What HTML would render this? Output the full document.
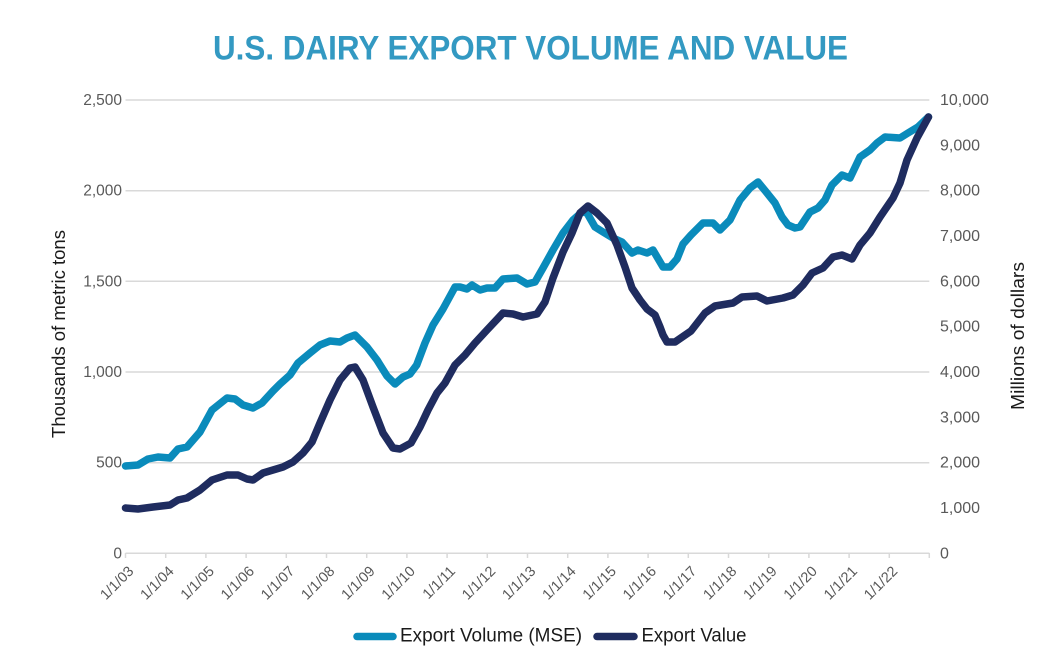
<!DOCTYPE html>
<html>
<head>
<meta charset="utf-8">
<style>
  html,body{margin:0;padding:0;background:#fff;}
  svg{display:block;}
  text{font-family:"Liberation Sans", sans-serif;}
</style>
</head>
<body>
<svg width="1061" height="665" viewBox="0 0 1061 665" xmlns="http://www.w3.org/2000/svg">
  <rect width="1061" height="665" fill="#fff"/>

  <!-- Title -->
  <text x="213" y="59.5" font-family="Liberation Sans Narrow, Liberation Sans, sans-serif" font-weight="bold" font-size="34" fill="#3399c2" textLength="635" lengthAdjust="spacingAndGlyphs">U.S. DAIRY EXPORT VOLUME AND VALUE</text>

  <!-- Gridlines -->
  <g stroke="#d9d9d9" stroke-width="1.5">
    <line x1="125.5" y1="100" x2="929.3" y2="100"/>
    <line x1="125.5" y1="190.7" x2="929.3" y2="190.7"/>
    <line x1="125.5" y1="281.3" x2="929.3" y2="281.3"/>
    <line x1="125.5" y1="372" x2="929.3" y2="372"/>
    <line x1="125.5" y1="462.7" x2="929.3" y2="462.7"/>
    <line x1="125.5" y1="553.3" x2="929.3" y2="553.3"/>
  </g>
  <!-- x ticks -->
  <g stroke="#d9d9d9" stroke-width="1.5">
    <line x1="125.5" y1="553" x2="125.5" y2="558"/>
    <line x1="165.7" y1="553" x2="165.7" y2="558"/>
    <line x1="205.9" y1="553" x2="205.9" y2="558"/>
    <line x1="246.1" y1="553" x2="246.1" y2="558"/>
    <line x1="286.3" y1="553" x2="286.3" y2="558"/>
    <line x1="326.5" y1="553" x2="326.5" y2="558"/>
    <line x1="366.7" y1="553" x2="366.7" y2="558"/>
    <line x1="406.9" y1="553" x2="406.9" y2="558"/>
    <line x1="447.1" y1="553" x2="447.1" y2="558"/>
    <line x1="487.3" y1="553" x2="487.3" y2="558"/>
    <line x1="527.5" y1="553" x2="527.5" y2="558"/>
    <line x1="567.7" y1="553" x2="567.7" y2="558"/>
    <line x1="607.9" y1="553" x2="607.9" y2="558"/>
    <line x1="648.1" y1="553" x2="648.1" y2="558"/>
    <line x1="688.3" y1="553" x2="688.3" y2="558"/>
    <line x1="728.5" y1="553" x2="728.5" y2="558"/>
    <line x1="768.7" y1="553" x2="768.7" y2="558"/>
    <line x1="808.9" y1="553" x2="808.9" y2="558"/>
    <line x1="849.1" y1="553" x2="849.1" y2="558"/>
    <line x1="889.3" y1="553" x2="889.3" y2="558"/>
    <line x1="929.3" y1="553" x2="929.3" y2="558"/>
  </g>

  <!-- Left axis labels -->
  <g font-size="15.5" fill="#595959" text-anchor="end">
    <text x="122" y="105">2,500</text>
    <text x="122" y="195.7">2,000</text>
    <text x="122" y="286.3">1,500</text>
    <text x="122" y="377">1,000</text>
    <text x="122" y="467.7">500</text>
    <text x="122" y="558.3">0</text>
  </g>
  <!-- Right axis labels -->
  <g font-size="16" fill="#595959" text-anchor="start">
    <text x="940" y="105">10,000</text>
    <text x="940" y="150.3">9,000</text>
    <text x="940" y="195.7">8,000</text>
    <text x="940" y="241">7,000</text>
    <text x="940" y="286.3">6,000</text>
    <text x="940" y="331.7">5,000</text>
    <text x="940" y="377">4,000</text>
    <text x="940" y="422.3">3,000</text>
    <text x="940" y="467.7">2,000</text>
    <text x="940" y="513">1,000</text>
    <text x="940" y="558.3">0</text>
  </g>

  <!-- Axis titles -->
  <text transform="translate(65,334) rotate(-90)" text-anchor="middle" font-size="18.5" fill="#1a1a1a" textLength="208" lengthAdjust="spacingAndGlyphs">Thousands of metric tons</text>
  <text transform="translate(1024,336) rotate(-90)" text-anchor="middle" font-size="18.5" fill="#1a1a1a" textLength="148" lengthAdjust="spacingAndGlyphs">Millions of dollars</text>

  <!-- X labels -->
  <g font-size="14.5" fill="#595959" text-anchor="end">
    <text transform="translate(134.5,572) rotate(-45)">1/1/03</text>
    <text transform="translate(174.7,572) rotate(-45)">1/1/04</text>
    <text transform="translate(214.9,572) rotate(-45)">1/1/05</text>
    <text transform="translate(255.1,572) rotate(-45)">1/1/06</text>
    <text transform="translate(295.3,572) rotate(-45)">1/1/07</text>
    <text transform="translate(335.5,572) rotate(-45)">1/1/08</text>
    <text transform="translate(375.7,572) rotate(-45)">1/1/09</text>
    <text transform="translate(415.9,572) rotate(-45)">1/1/10</text>
    <text transform="translate(456.1,572) rotate(-45)">1/1/11</text>
    <text transform="translate(496.3,572) rotate(-45)">1/1/12</text>
    <text transform="translate(536.5,572) rotate(-45)">1/1/13</text>
    <text transform="translate(576.7,572) rotate(-45)">1/1/14</text>
    <text transform="translate(616.9,572) rotate(-45)">1/1/15</text>
    <text transform="translate(657.1,572) rotate(-45)">1/1/16</text>
    <text transform="translate(697.3,572) rotate(-45)">1/1/17</text>
    <text transform="translate(737.5,572) rotate(-45)">1/1/18</text>
    <text transform="translate(777.7,572) rotate(-45)">1/1/19</text>
    <text transform="translate(817.9,572) rotate(-45)">1/1/20</text>
    <text transform="translate(858.1,572) rotate(-45)">1/1/21</text>
    <text transform="translate(898.3,572) rotate(-45)">1/1/22</text>
  </g>

  <!-- Export Volume series -->
  <polyline fill="none" stroke="#0a8bbb" stroke-width="7.5" stroke-linejoin="round" stroke-linecap="round"
    points="125.5,466 138,465 148,459 158,457 170,458 178,449 187,447 200,432 212,410 217,406 227,398 235,399 243,405 253,408 262,403 273,391 280,384 290,375 298,363 310,353 320,345 330,341 340,342 347,338 355,335 367,347 377,360 387,376 395,384 403,377 410,374 416.7,365 425,343 433,325 443,309 455,287 460,287 467,289 472,285 480,290 487,288 495,288 503,279 517,278 527,284 535,282 543,268 553,250 563,233 573,220 582,212 587,213 595,227 603,232 613,238 622,242 632,253 638,250 647,253 653,250 663,267 670,267 677,259 683,244 691,235 703,223 713,223 720,230 730,220 740,200 750,188 758,182 767,193 775,203 782,217 788,225 795,228 800,227 810,212 818,208 825,200 832,185 842,175 850,178 860,157 870,150 877,143 885,137 900,138 908,133 918,127 928.5,117"/>

  <!-- Export Value series -->
  <polyline fill="none" stroke="#1f2c5f" stroke-width="7.5" stroke-linejoin="round" stroke-linecap="round"
    points="125.5,508 138,509 153,507 170,505 178,500 187,498 200,490 212,480 218,478 227,475 238,475 247,479 253,480 263,473 273,470 283,467 293,462 303,453 312,442 320,423 330,400 340,380 350,368 355,367 363,380 373,407 383,433 393,448 400,449 411,443 420,427 428,410 437,393 445,383 455,365 465,355 475,343 487,330 503,313 513,314 523,317 537,314 545,302 553,278 563,252 572,233 580,213 588,206 597,213 607,223 617,245 625,267 632,288 640,300 647,309 655,315 660,327 663,335 667,342 675,342 691,331 705,313 715,306 733,303 742,297 757,296 767,301 783,298 793,295 803,285 812,273 823,268 833,257 842,255 852,259 860,245 870,233 880,217 893,198 900,183 907,160 917,138 928.5,117"/>

  <!-- Legend -->
  <line x1="357" y1="636.5" x2="393" y2="636.5" stroke="#0a8bbb" stroke-width="7.5" stroke-linecap="round"/>
  <text x="400" y="641.5" font-size="19" fill="#1a1a1a" textLength="182" lengthAdjust="spacingAndGlyphs">Export Volume (MSE)</text>
  <line x1="597" y1="636.5" x2="634" y2="636.5" stroke="#1f2c5f" stroke-width="7.5" stroke-linecap="round"/>
  <text x="641.5" y="641.5" font-size="19" fill="#1a1a1a" textLength="105" lengthAdjust="spacingAndGlyphs">Export Value</text>
</svg>
</body>
</html>
